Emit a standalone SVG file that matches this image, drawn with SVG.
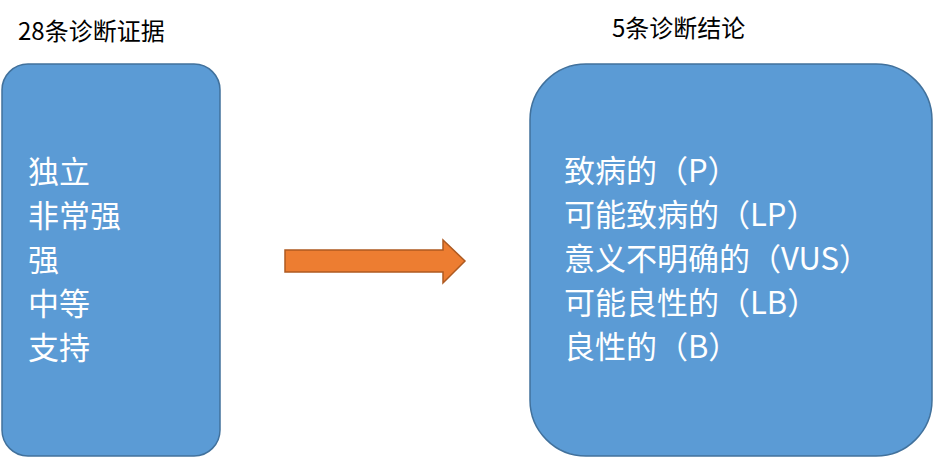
<svg xmlns="http://www.w3.org/2000/svg" width="950" height="459" viewBox="0 0 950 459">
<style>
.box{fill:#5B9BD5;stroke:#41719C;stroke-width:1.5}
.t{font-family:"Noto Sans CJK SC","Noto Sans",sans-serif;fill:#fff;font-size:31px}
.h{font-family:"Noto Sans CJK SC","Noto Sans",sans-serif;fill:#000;font-size:24px}
</style>
<rect width="950" height="459" fill="#fff"/>
<text class="h" x="18" y="40">28条诊断证据</text>
<text class="h" x="612" y="37">5条诊断结论</text>
<g id="evidence">
<rect class="box" x="2" y="64" width="218" height="392" rx="26"/>
<text class="t" x="28"><tspan x="28" y="183">独立</tspan><tspan x="28" y="227">非常强</tspan><tspan x="28" y="271">强</tspan><tspan x="28" y="315">中等</tspan><tspan x="28" y="359">支持</tspan></text>
</g>
<g id="conclusion">
<rect class="box" x="530" y="64" width="402" height="392" rx="56"/>
<text class="t"><tspan x="564" y="182">致病的（P）</tspan><tspan x="564" y="226">可能致病的（LP）</tspan><tspan x="564" y="270">意义不明确的（VUS）</tspan><tspan x="564" y="314">可能良性的（LB）</tspan><tspan x="564" y="358">良性的（B）</tspan></text>
</g>
<g id="connectors">
<polygon points="285,250 443,250 443,240 465,261 443,283 443,272 285,272" fill="#ED7D31" stroke="#AE5A21" stroke-width="1.5"/>
</g>
</svg>
